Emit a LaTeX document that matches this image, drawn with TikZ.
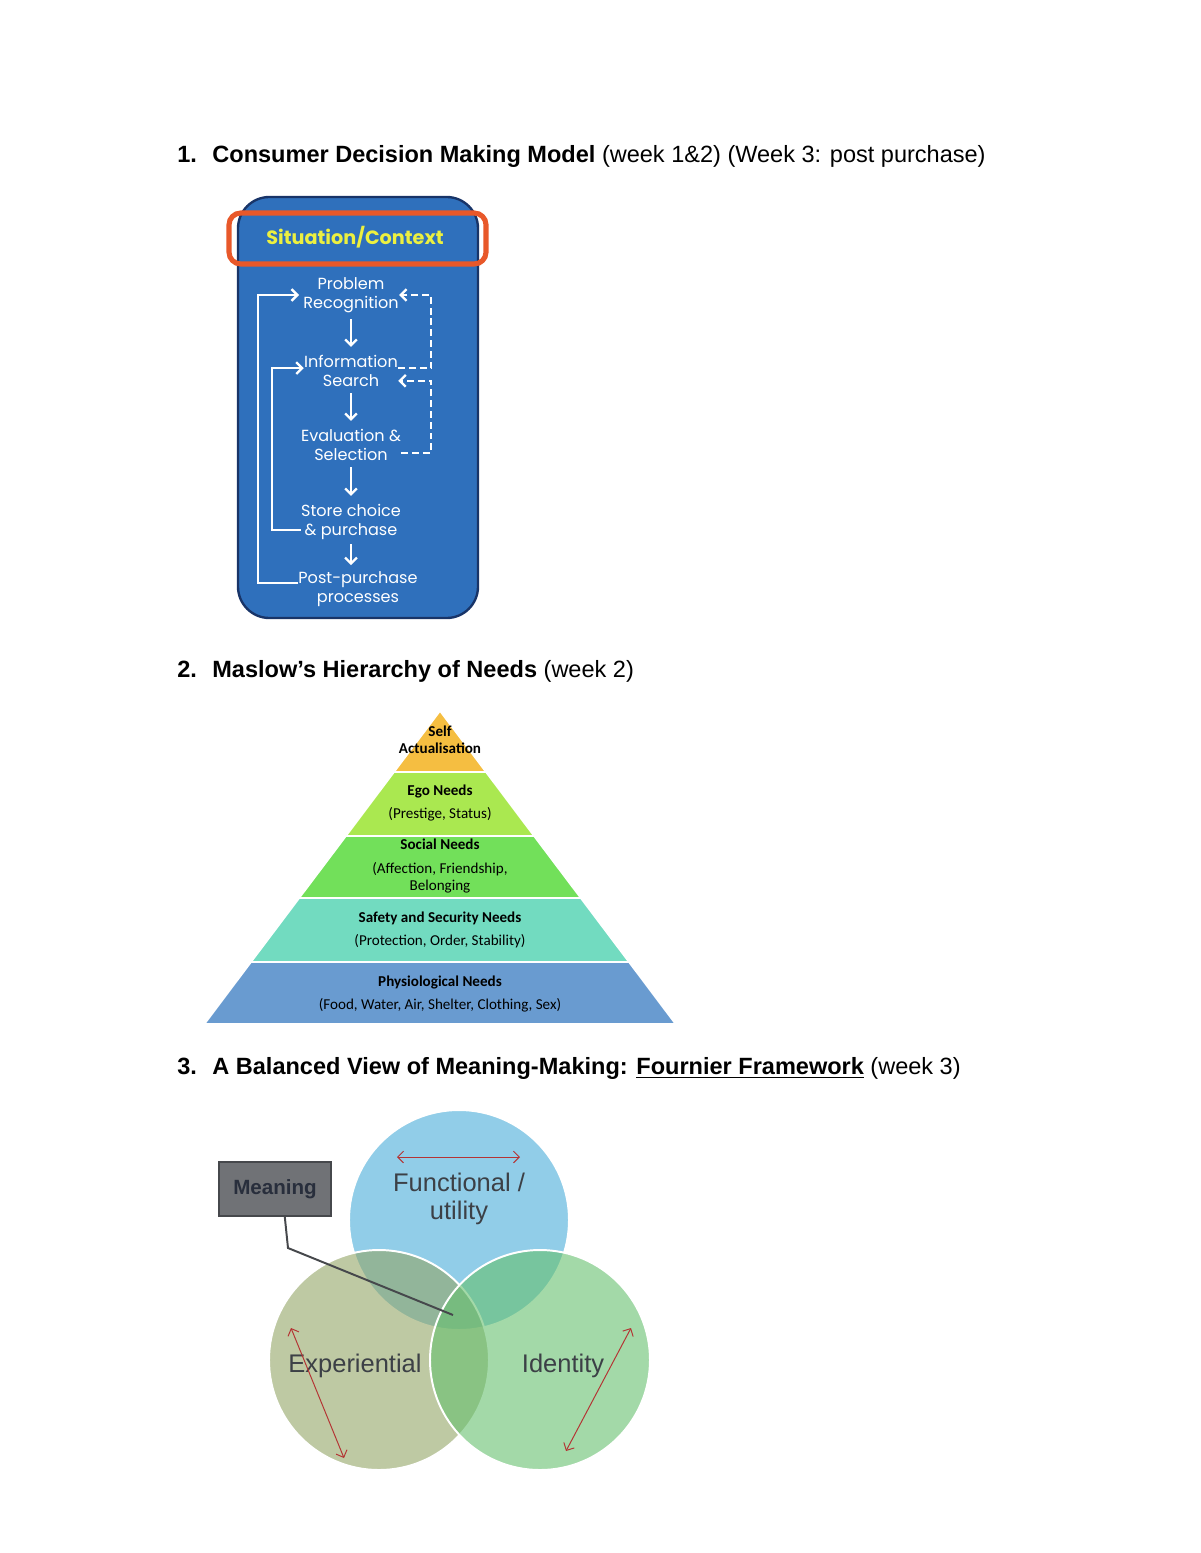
\documentclass[tikz,border=0pt]{standalone}
\usepackage{fontspec}
\setmainfont{Liberation Sans}
\newfontfamily\gothic{Poppins}
\newfontfamily\calib{Carlito}
\usetikzlibrary{calc, arrows.meta, positioning}

\definecolor{cdmblue}{RGB}{47,112,188}
\definecolor{cdmnavy}{RGB}{24,52,104}
\definecolor{ctxorange}{RGB}{232,88,42}
\definecolor{ctxyellow}{RGB}{236,240,64}
\definecolor{selfcol}{RGB}{245,190,65}
\definecolor{egocol}{RGB}{170,232,80}
\definecolor{socialcol}{RGB}{114,224,90}
\definecolor{safetycol}{RGB}{114,219,192}
\definecolor{physcol}{RGB}{105,155,208}
\definecolor{funccol}{RGB}{73,172,217}
\definecolor{expcol}{RGB}{147,165,102}
\definecolor{identcol}{RGB}{102,192,110}
\definecolor{vtext}{RGB}{60,64,70}
\definecolor{tensionred}{RGB}{180,52,52}
\definecolor{meaninggray}{RGB}{112,114,118}
\definecolor{meaningedge}{RGB}{70,72,76}
\definecolor{meaningtext}{RGB}{40,46,60}

\begin{document}
\begin{tikzpicture}[x=0.51pt,y=-0.51pt,
  every node/.style={inner sep=0pt},
  headline/.style={anchor=base west,font=\fontsize{12}{14}\selectfont},
  stepnode/.style={text=white,align=center,font=\gothic\fontsize{8.2}{9.8}\selectfont},
  flow/.style={white,line width=1.2pt,-{Straight Barb[length=3pt,width=6pt]}},
  feedback/.style={flow,dash pattern=on 3.5pt off 2pt},
  band/.style={draw=white,line width=0.8pt},
  needtext/.style={align=center,font=\calib\fontsize{7.7}{8.7}\selectfont},
  venn/.style={draw=white,line width=1pt,fill opacity=0.6},
  vlabel/.style={text=vtext,font=\fontsize{13}{14}\selectfont,align=center},
  twoway/.style={draw=tensionred,line width=0.5pt,{Straight Barb[length=3pt]}-{Straight Barb[length=3pt]}}]
\fill[white] (0,0) rectangle (1200,1553);
\useasboundingbox (0,0) rectangle (1200,1553);

% 1. consumer decision making model
\node[headline] (num1) at (177,163) {\textbf{1.}};
\node[headline] (head1) at (212,163) {\textbf{Consumer Decision Making Model} (week 1\&2) (Week 3: post purchase)};

\draw[cdmnavy,line width=1.2pt,fill=cdmblue,rounded corners=16pt] (238,197) rectangle (478,618);
\draw[ctxorange,line width=2.6pt,rounded corners=6pt] (229,213) rectangle (486,264);
\node[text=ctxyellow,font=\gothic\bfseries\fontsize{9.8}{11}\selectfont] (context) at (355,237) {Situation/Context};

\node[stepnode] (prob) at (351,295) {Problem\\Recognition};
\node[stepnode] (info) at (351,371) {Information\\Search};
\node[stepnode] (eval) at (351,445) {Evaluation \&\\Selection};
\node[stepnode] (store) at (351,522) {Store choice\\\& purchase};
\node[stepnode] (post) at (358,589) {Post-purchase\\processes};
\coordinate (lrail) at (258,0);
\coordinate (irail) at (272,0);
\coordinate (rrail) at (431,0);

\draw[flow,shorten <=3pt,shorten >=4pt] (prob.south) -- (info.north);
\draw[flow,shorten <=3pt,shorten >=4pt] (info.south) -- (eval.north);
\draw[flow,shorten <=3pt,shorten >=4pt] (eval.south) -- (store.north);
\draw[flow,shorten <=2pt,shorten >=3pt] (store.south) -- (store.south |- post.north);
\draw[flow] ([yshift=3pt]post.west) -- ([yshift=3pt]post.west -| lrail) |- ([xshift=-2pt]prob.west);
\draw[flow] ([yshift=-4pt]store.west) -- ([yshift=-4pt]store.west -| irail) |- ([yshift=1.5pt]info.west);
\draw[feedback] ([yshift=1.5pt]info.east) -- ([yshift=1.5pt]info.east -| rrail) |- (prob.east);
\draw[feedback] ([yshift=-4pt]eval.east) -- ([yshift=-4pt]eval.east -| rrail) |- ([yshift=-5pt]info.east);

% 2. maslow
\node[headline] (num2) at (177,677) {\textbf{2.}};
\node[headline] (head2) at (212,677) {\textbf{Maslow's Hierarchy of Needs} (week 2)};

\draw[band,fill=selfcol] (440,711) -- (485.9,772) -- (394.1,772) -- cycle;
\draw[band,fill=egocol] (394.1,772) -- (485.9,772) -- (534,836) -- (346,836) -- cycle;
\draw[band,fill=socialcol] (346,836) -- (534,836) -- (580.7,898) -- (299.3,898) -- cycle;
\draw[band,fill=safetycol] (299.3,898) -- (580.7,898) -- (628.9,962) -- (251.1,962) -- cycle;
\draw[band,fill=physcol] (251.1,962) -- (628.9,962) -- (675.5,1024) -- (204.5,1024) -- cycle;

\node[needtext] (selfact) at (440,740) {\textbf{Self}\\\textbf{Actualisation}};
\node[needtext] (ego) at (440,803) {\textbf{Ego Needs}\\[3.5pt](Prestige, Status)};
\node[needtext] (social) at (440,866) {\textbf{Social Needs}\\[3.5pt](Affection, Friendship,\\Belonging};
\node[needtext] (safety) at (440,930) {\textbf{Safety and Security Needs}\\[3pt](Protection, Order, Stability)};
\node[needtext] (phys) at (440,994) {\textbf{Physiological Needs}\\[3pt](Food, Water, Air, Shelter, Clothing, Sex)};

% 3. fournier
\node[headline] (num3) at (177,1074) {\textbf{3.}};
\node[headline] (head3) at (212,1074) {\textbf{A Balanced View of Meaning-Making: \underline{Fournier Framework}} (week 3)};

\draw[venn,fill=funccol] (459,1220) circle (110);
\draw[venn,fill=expcol] (379,1360) circle (110);
\draw[venn,fill=identcol] (540,1360) circle (110);

\node[vlabel] (func) at (459,1199) {Functional /\\utility};
\node[vlabel] (exper) at (355,1366) {Experiential};
\node[vlabel] (ident) at (563,1366) {Identity};

\coordinate (ft1) at (397,1157);
\coordinate (ft2) at (520,1157);
\coordinate (et1) at (291,1328);
\coordinate (et2) at (344,1458);
\coordinate (it1) at (631,1328);
\coordinate (it2) at (566,1451);
\draw[twoway] (ft1) -- (ft2);
\draw[twoway] (et1) -- (et2);
\draw[twoway] (it1) -- (it2);

\node[draw=meaningedge,fill=meaninggray,line width=1pt,minimum width=57.6pt,minimum height=27.5pt,
  text=meaningtext,font=\bfseries\fontsize{10.5}{12}\selectfont] (meaning) at (275,1189) {Meaning};
\coordinate (bend) at (288,1248);
\coordinate (core) at (453,1315);
\draw[meaningedge,line width=1pt] ([xshift=5pt]meaning.south) -- (bend) -- (core);
\end{tikzpicture}
\end{document}
